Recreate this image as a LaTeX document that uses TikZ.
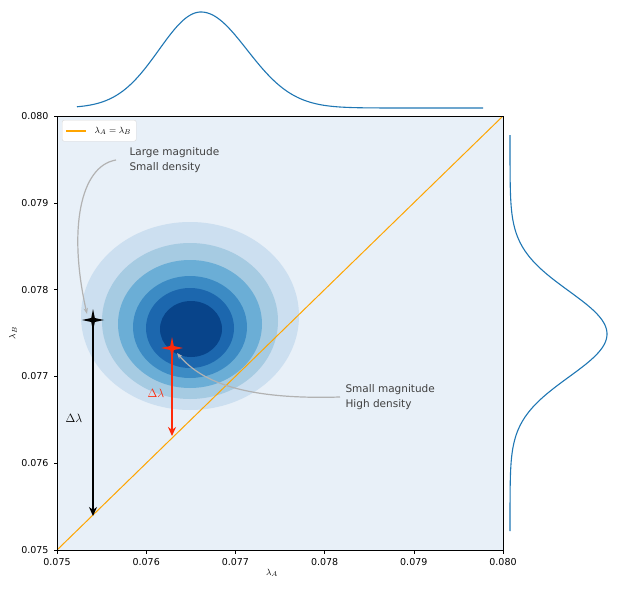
\documentclass[tikz,border=0pt]{standalone}
\usepackage{fontspec}
\setmainfont{DejaVu Sans}
\usetikzlibrary{arrows.meta}
\definecolor{bgc}{HTML}{E8F0F8}
\definecolor{c1}{HTML}{CCDFF0}
\definecolor{c2}{HTML}{A6CBE2}
\definecolor{c3}{HTML}{6BAED6}
\definecolor{c4}{HTML}{3C8BC4}
\definecolor{c5}{HTML}{1C67AE}
\definecolor{c6}{HTML}{08448A}
\definecolor{mpl}{HTML}{1F77B4}
\definecolor{orng}{HTML}{FFA500}
\definecolor{redc}{HTML}{FF2A0A}
\tikzset{tick/.style={font=\fontsize{9.5}{11}\selectfont},
 ann/.style={draw=gray!60,line width=1.2pt,-{Stealth[length=6pt]}},
 anntext/.style={font=\fontsize{10.5}{15}\selectfont,text=black!75,align=left,anchor=north west},
 star/.pic={\fill[#1] (0,-11)--(1.8,-2)--(11,0)--(1.8,2)--(0,11)--(-1.8,2)--(-11,0)--(-1.8,-2)--cycle;}}
\begin{document}
\begin{tikzpicture}[x=1pt,y=-1pt]
\useasboundingbox (0,0) rectangle (621,589);
\fill[white] (0,0) rectangle (621,589);
\begin{scope}
\clip (57,116) rectangle (503,550);
\fill[bgc] (57,116) rectangle (503,550);
\fill[c1] (190,316) ellipse [x radius=109,y radius=94];
\fill[c2] (190,321) ellipse [x radius=88,y radius=78];
\fill[c3] (190,324) ellipse [x radius=72,y radius=64];
\fill[c4] (190,327) ellipse [x radius=57,y radius=51];
\fill[c5] (190,328) ellipse [x radius=44,y radius=40];
\fill[c6] (191,329) ellipse [x radius=31,y radius=28];
\draw[orng,line width=1pt] (57,550)--(503,116);
\end{scope}
\draw[line width=0.6pt] (57,116) rectangle (503,550);
% ticks
\foreach \i/\l in {0/0.075,1/0.076,2/0.077,3/0.078,4/0.079,5/0.080}{
 \draw (57+89.2*\i,550)--++(0,3.5);
 \node[tick,anchor=north] at (57+89.2*\i,555) {\l};
 \draw (57,550-86.8*\i)--++(-3.5,0);
 \node[tick,anchor=east] at (52,550-86.8*\i) {\l};}
\node[tick] (xl) at (272,573) {$\lambda_A$};
\node[tick,rotate=90] (yl) at (13,333) {$\lambda_B$};
% legend
\node[draw=black!15,fill=white,rounded corners=2pt,minimum width=74,minimum height=21,anchor=north west] (leg) at (62,120) {};
\coordinate (l1) at (66,131); \coordinate (l2) at (86,131);
\draw[orng,line width=1.5pt] (l1)--(l2);
\node[tick,anchor=west] (legt) at (91,131) {$\lambda_A=\lambda_B$};
% annotations
\node[anntext] (t1) at (126,144) {Large magnitude\\Small density};
\node[anntext] (t2) at (342,381) {Small magnitude\\High density};
\coordinate (a1) at (87,314);
\coordinate (a2) at (177,353);
\draw[ann] (116,160) .. controls (80,166) and (68,230) .. (a1);
\draw[ann] (340,397) .. controls (240,400) and (200,380) .. (a2);
% markers
\coordinate (bs) at (93,320); \coordinate (be) at (93,516);
\coordinate (rs) at (172,348); \coordinate (re) at (172,436);
\draw[line width=2pt,-{Stealth[length=9pt,width=8pt]}] (bs)--(be);
\draw[redc,line width=1.6pt,-{Stealth[length=9pt,width=8pt]}] (rs)--(re);
\pic at (bs) {star=black};
\pic at (rs) {star=redc};
\node[font=\fontsize{13}{14}\selectfont] (dl1) at (74,418) {$\Delta\lambda$};
\node[font=\fontsize{12}{14}\selectfont,text=redc] (dl2) at (156,393) {$\Delta\lambda$};
% marginals
\draw[mpl,line width=1.1pt,domain=77:483,samples=200,smooth] plot (\x,{108-96*exp(-((\x-201)/(\x<201?42:46))^2/2)-3*exp(-((\x-90)/30)^2/2)*0});
\draw[mpl,line width=1.1pt,domain=135:531,samples=200,smooth] plot ({510+97*exp(-((\x-334)/43)^2/2)},\x);
\end{tikzpicture}
\end{document}
